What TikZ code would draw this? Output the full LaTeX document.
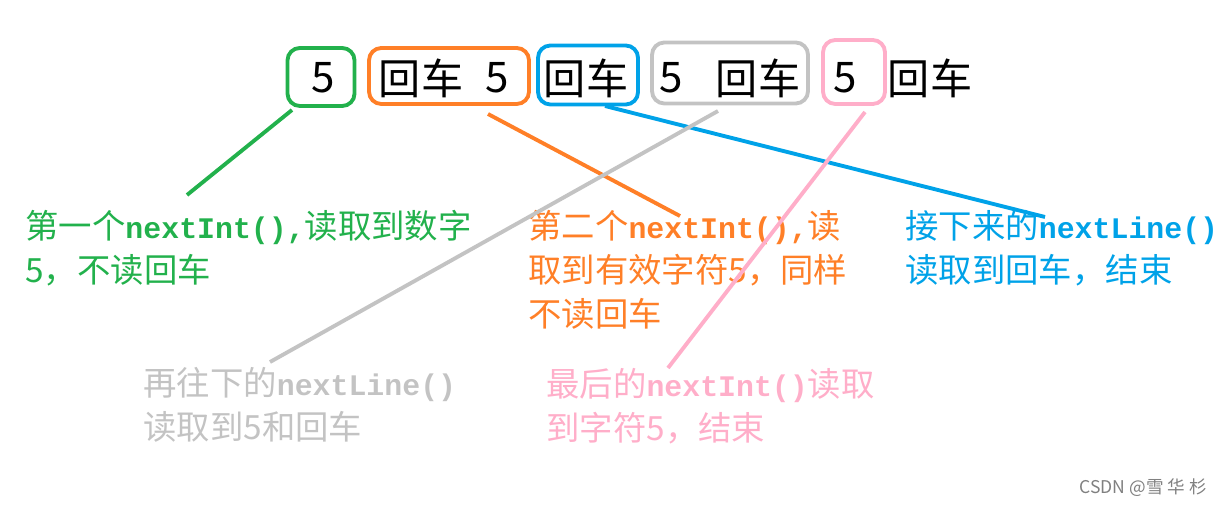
\documentclass[tikz,border=0pt]{standalone}
\usepackage{fontspec}
\setmainfont{Noto Sans CJK SC}
\newfontfamily\lat{Liberation Mono}
\usetikzlibrary{positioning}
\definecolor{pgreen}{RGB}{34,177,76}
\definecolor{porange}{RGB}{255,127,39}
\definecolor{pblue}{RGB}{0,162,232}
\definecolor{pgray}{RGB}{195,195,195}
\definecolor{ppink}{RGB}{255,174,201}
\newcommand{\lt}[1]{{\lat\bfseries\fontsize{17}{25}\selectfont #1}}
\tikzset{
  tok/.style={font=\fontsize{24}{28}\selectfont, inner sep=0pt, anchor=center},
  tokbox/.style={draw=#1, line width=2.2pt, rounded corners=7pt, inner sep=0pt},
  note/.style={text=#1, align=left, inner sep=0pt, anchor=north west,
    font=\fontsize{19}{25}\selectfont},
  link/.style={draw=#1, line width=2.2pt}
}
\begin{document}
\begin{tikzpicture}[x=0.02cm,y=-0.02cm]
  \useasboundingbox (0,0) rectangle (1229,506);
  % boxes along the top
  \node[tokbox=pgreen, minimum width=1.34cm, minimum height=1.16cm] (bg) at (321,77) {};
  \node[tokbox=porange, minimum width=3.2cm, minimum height=1.12cm] (bo) at (449,76) {};
  \node[tokbox=pblue, minimum width=2.0cm, minimum height=1.18cm] (bb) at (588,75) {};
  \node[tokbox=pgray, minimum width=3.12cm, minimum height=1.22cm] (bgr) at (730,73) {};
  \node[tokbox=ppink, minimum width=1.24cm, minimum height=1.28cm] (bp) at (854,72) {};
  % tokens
  \node[tok] (t1) at (323,78) {5};
  \node[tok] (t2) at (421,78) {回车};
  \node[tok] (t3) at (497,78) {5};
  \node[tok] (t4) at (586,78) {回车};
  \node[tok] (t5) at (671,78) {5};
  \node[tok] (t6) at (758,78) {回车};
  \node[tok] (t7) at (845,78) {5};
  \node[tok] (t8) at (930,78) {回车};
  % notes
  \node[note=pgreen] (ng) at (25,210) {第一个\lt{nextInt(),}读取到数字\\5，不读回车};
  \node[note=porange] (no) at (528,210) {第二个\lt{nextInt(),}读\\取到有效字符5，同样\\不读回车};
  \node[note=pblue] (nb) at (905,210) {接下来的\lt{nextLine()}\\读取到回车，结束};
  \node[note=pgray] (ngr) at (143,367) {再往下的\lt{nextLine()}\\读取到5和回车};
  \node[note=ppink] (np) at (546,368) {最后的\lt{nextInt()}读取\\到字符5，结束};
  % links
  \coordinate (eg) at (187,195);
  \coordinate (eo) at (680,216);
  \coordinate (eb) at (1045,217);
  \coordinate (egr) at (270,362);
  \coordinate (ep) at (668,368);
  \draw[link=pgreen] (292,110) -- (eg);
  \draw[link=porange] (488,114) -- (eo);
  \draw[link=pblue] (605,106) -- (eb);
  \draw[link=pgray] (718,111) -- (egr);
  \draw[link=ppink] (865,112) -- (ep);
  \node[text=gray, font=\fontsize{10}{12}\selectfont, anchor=east] (wm) at (1213,488) {CSDN @雪 华 杉};
\end{tikzpicture}
\end{document}
